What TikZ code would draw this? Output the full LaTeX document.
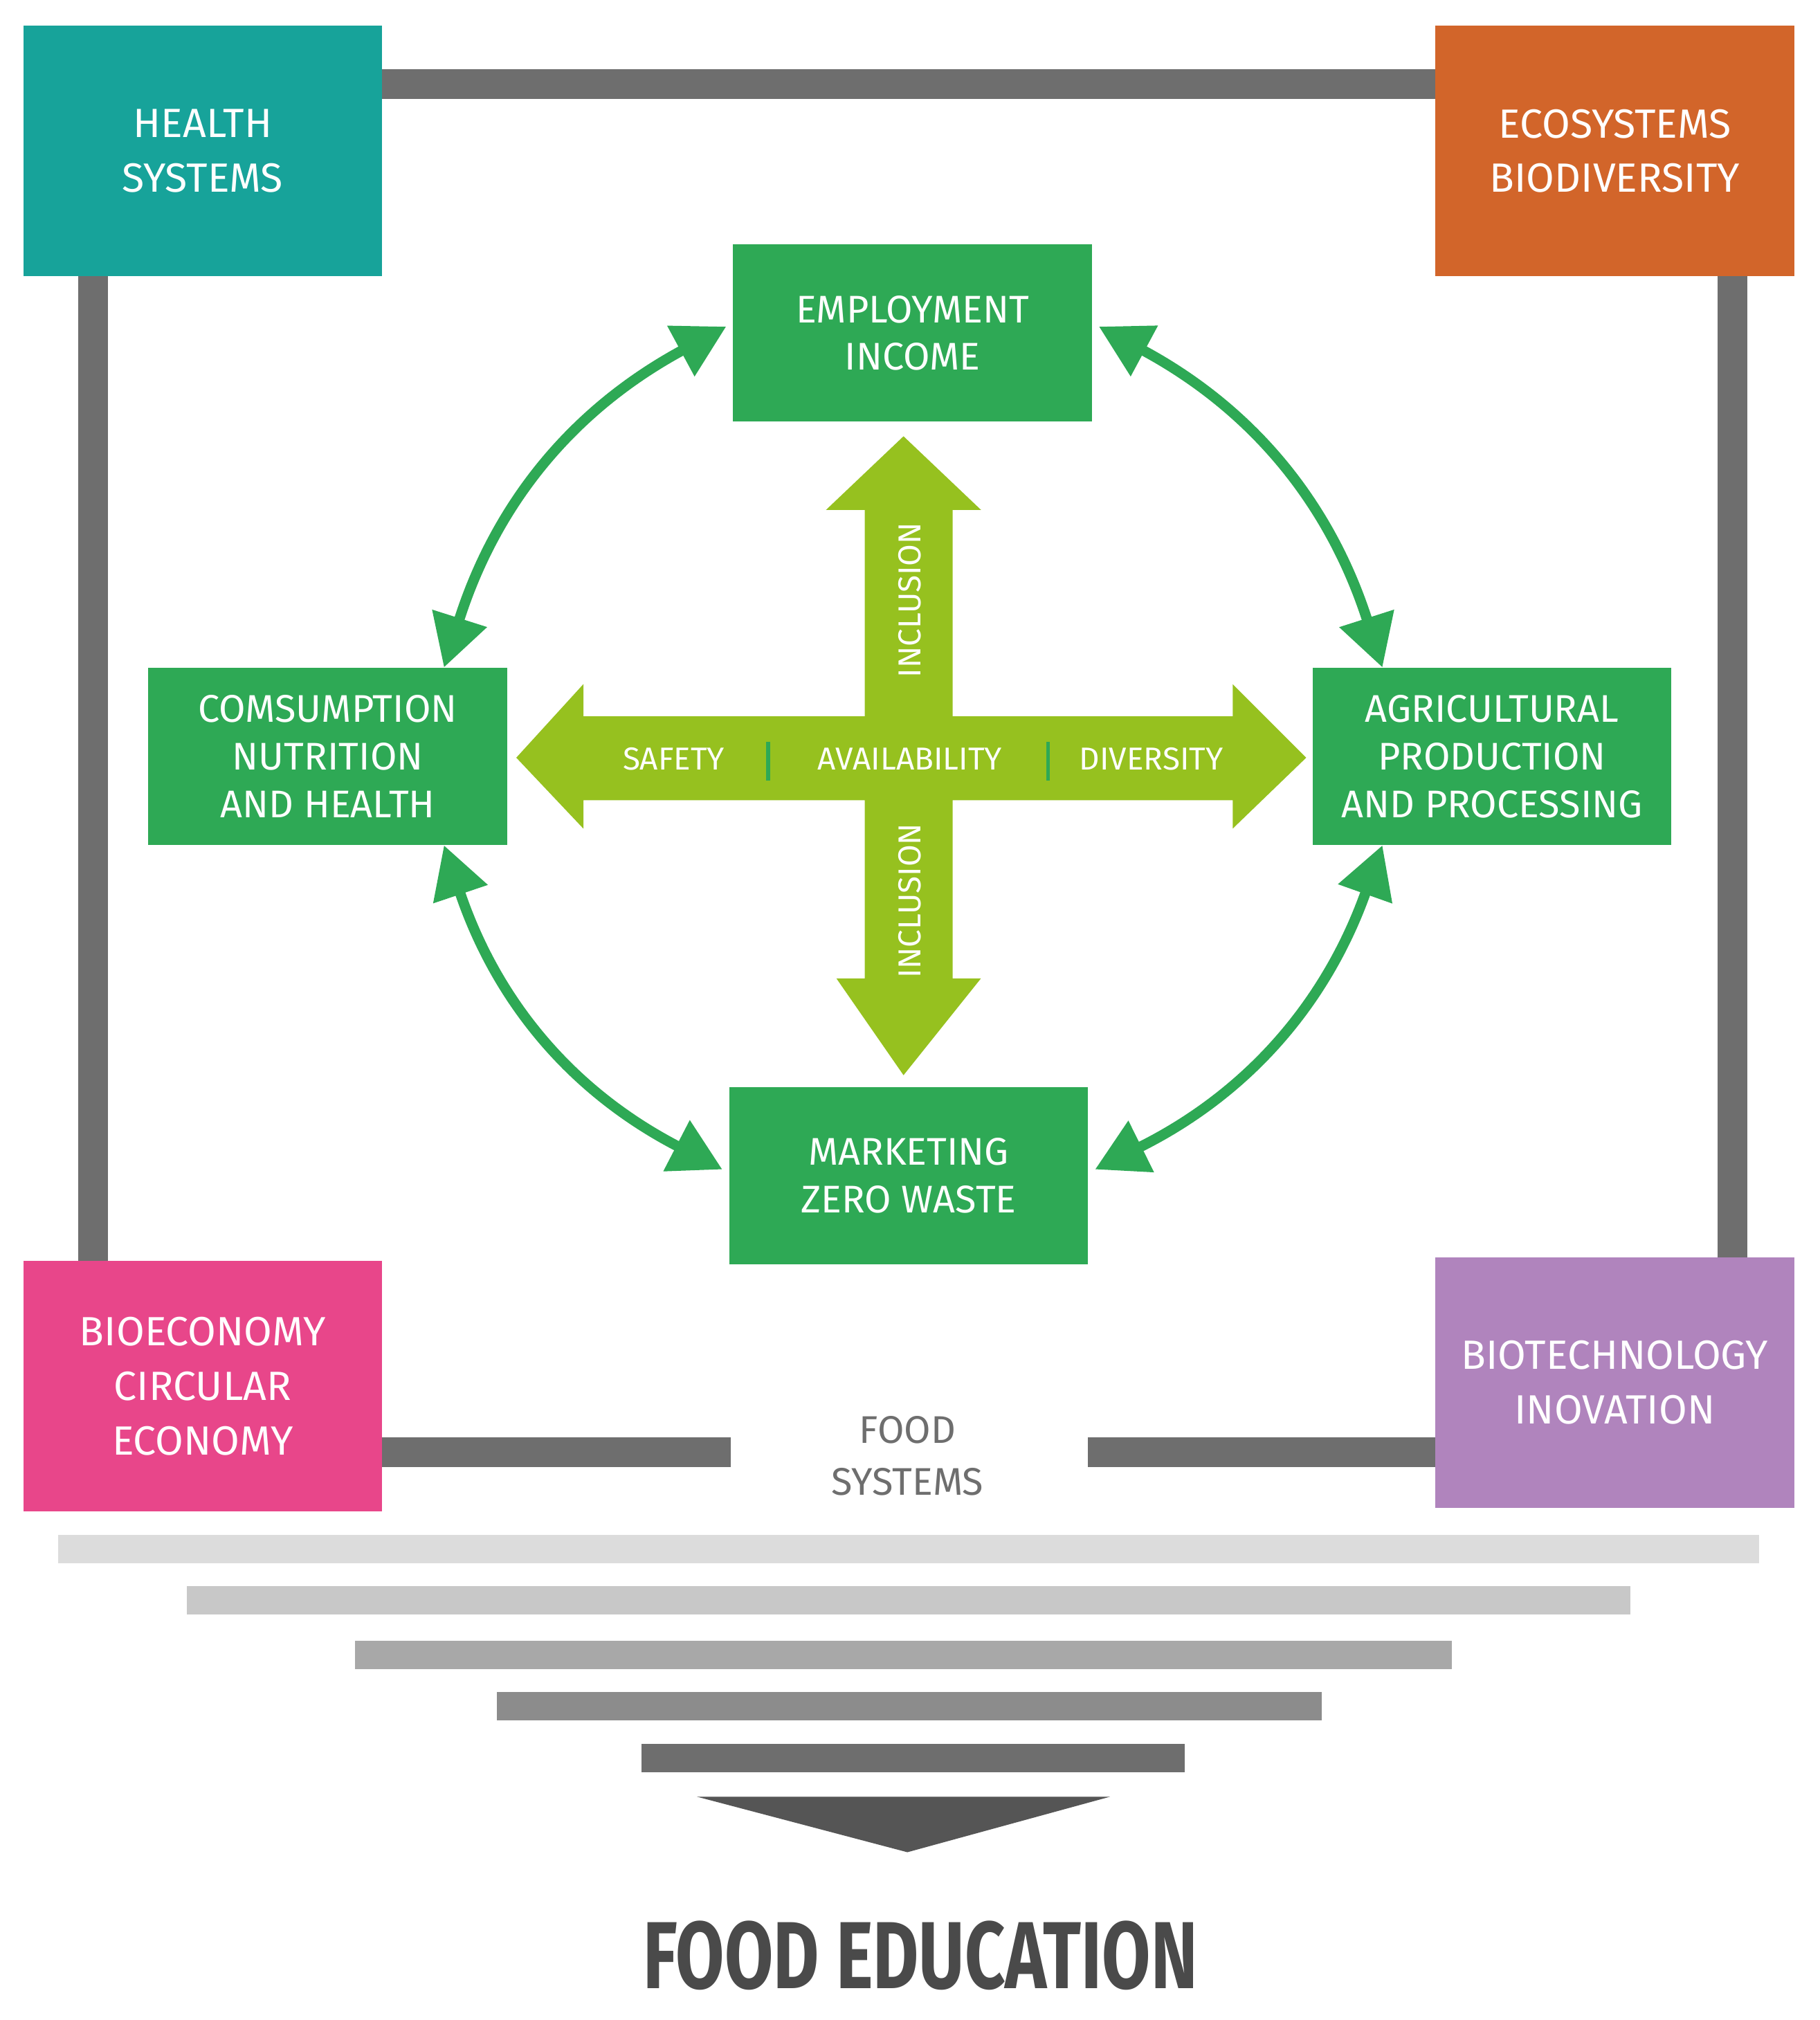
\documentclass[tikz,border=0pt]{standalone}
\usepackage{fontspec}
\setmainfont{Fira Sans}
\usetikzlibrary{arrows.meta}
\definecolor{boxg}{HTML}{2EA955}
\definecolor{lg}{HTML}{96C11F}
\definecolor{fr}{HTML}{6E6E6E}
\begin{document}
\begin{tikzpicture}[x=0.02cm,y=-0.02cm,
 big/.style={minimum width=278*0.02cm,minimum height=194*0.02cm,text=white,align=center,font=\fontsize{18}{24}\selectfont,inner sep=0pt},
 gbox/.style={fill=boxg,minimum width=278*0.02cm,minimum height=137*0.02cm,text=white,align=center,font=\fontsize{17}{21}\selectfont,inner sep=0pt},
 frame/.style={fr,line width=23*0.02cm},
 carr/.style={boxg,line width=8*0.02cm,{Triangle[length=0.8cm,width=0.85cm]}-{Triangle[length=0.8cm,width=0.85cm]}},
 ctext/.style={text=white,font=\fontsize{14}{16}\selectfont}]
\useasboundingbox (0,0) rectangle (1410,1565);
% frame
\draw[frame] (296,65) -- (1112,65);
\draw[frame] (72,214) -- (72,978);
\draw[frame] (1342,214) -- (1342,975);
\draw[frame] (296,1125) -- (566,1125);
\draw[frame] (843,1125) -- (1112,1125);
\node[big,fill={rgb,255:red,23;green,163;blue,154}] (hs) at (157,117) {HEALTH\\SYSTEMS};
\node[big,fill={rgb,255:red,210;green,101;blue,42}] (eb) at (1251,117) {ECOSYSTEMS\\BIODIVERSITY};
\node[big,fill={rgb,255:red,232;green,70;blue,138}] (bc) at (157,1074) {BIOECONOMY\\CIRCULAR\\ECONOMY};
\node[big,fill={rgb,255:red,176;green,132;blue,189}] (bi) at (1251,1071) {BIOTECHNOLOGY\\INOVATION};
\node[text={rgb,255:red,110;green,110;blue,110},align=center,font=\fontsize{17}{23}\selectfont] (fs) at (703,1128) {FOOD\\SYSTEMS};
% cross
\fill[lg] (400,587) -- (452,530) -- (452,555) -- (670,555) -- (670,395) -- (640,395) -- (700,338) -- (760,395) -- (738,395) -- (738,555) -- (955,555) -- (955,530) -- (1012,587) -- (955,642) -- (955,620) -- (738,620) -- (738,758) -- (760,758) -- (700,833) -- (648,758) -- (670,758) -- (670,620) -- (452,620) -- (452,642) -- cycle;
\node[ctext] (sa) at (522,588) {SAFETY};
\node[ctext] (av) at (705,588) {AVAILABILITY};
\node[ctext] (di) at (892,588) {DIVERSITY};
\draw[boxg,line width=3*0.02cm] (595,575) -- (595,605) (812,575) -- (812,605);
\node[ctext,rotate=90] (i1) at (705,465) {INCLUSION};
\node[ctext,rotate=90] (i2) at (705,698) {INCLUSION};
% green boxes
\node[gbox] (em) at (707,258) {EMPLOYMENT\\INCOME};
\node[gbox] (co) at (254,586) {COMSUMPTION\\NUTRITION\\AND HEALTH};
\node[gbox] (ag) at (1156,586) {AGRICULTURAL\\PRODUCTION\\AND PROCESSING};
\node[gbox] (ma) at (704,911) {MARKETING\\ZERO WASTE};
% arrows
\draw[carr] ([xshift=-0.1cm,yshift=0.1cm]em.west) to[bend right=22] ([xshift=1.8cm]co.north);
\draw[carr] ([xshift=0.1cm,yshift=0.1cm]em.east) to[bend left=22] ([xshift=-1.7cm]ag.north);
\draw[carr] ([xshift=1.8cm]co.south) to[bend right=22] ([xshift=-0.1cm,yshift=0.1cm]ma.west);
\draw[carr] ([xshift=-1.7cm]ag.south) to[bend left=22] ([xshift=0.1cm,yshift=0.1cm]ma.east);
% bars
\fill[fill={rgb,255:red,220;green,220;blue,220}] (45,1189) rectangle (1363,1211);
\fill[fill={rgb,255:red,200;green,200;blue,200}] (145,1229) rectangle (1263,1251);
\fill[fill={rgb,255:red,168;green,168;blue,168}] (275,1271) rectangle (1125,1293);
\fill[fill={rgb,255:red,140;green,140;blue,140}] (385,1311) rectangle (1024,1333);
\fill[fill={rgb,255:red,110;green,110;blue,110}] (497,1351) rectangle (918,1373);
\fill[fill={rgb,255:red,85;green,85;blue,85}] (540,1392) -- (860,1392) -- (703,1435) -- cycle;
\node[text={rgb,255:red,74;green,74;blue,74},font=\fontsize{42}{48}\selectfont\bfseries] (fe) at (713,1515) {\scalebox{0.74}[1]{FOOD EDUCATION}};
\end{tikzpicture}
\end{document}
